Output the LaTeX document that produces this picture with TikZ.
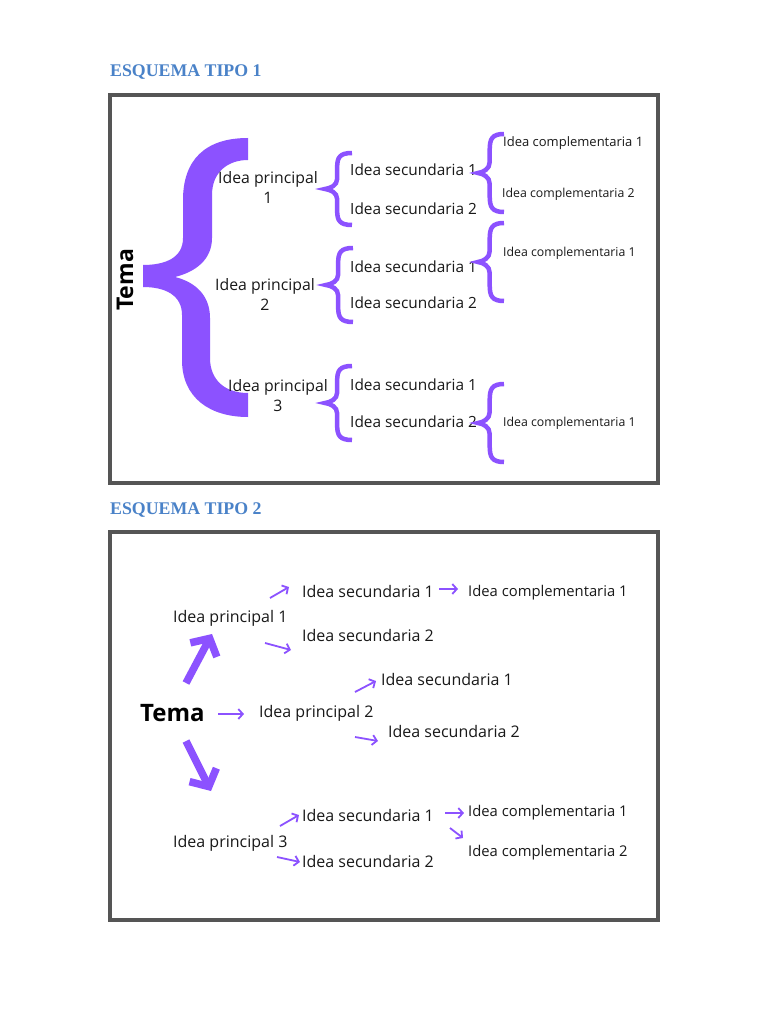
\documentclass[tikz,border=0pt]{standalone}
\usepackage{fontspec}
\setmainfont{Open Sans}
\newfontfamily\headfont{Liberation Serif}
\usetikzlibrary{arrows.meta}
\definecolor{brpurple}{RGB}{140,82,255}
\definecolor{headblue}{RGB}{74,130,200}
\definecolor{framegray}{RGB}{85,85,85}
\definecolor{txt}{RGB}{25,25,25}
\tikzset{
  frame/.style={draw=framegray, line width=4pt},
  head/.style={font=\headfont\bfseries\fontsize{17.8}{20}\selectfont, text=headblue, anchor=base west, inner sep=0},
  tmain/.style={font=\fontsize{15.8}{20}\selectfont, text=txt, inner sep=0, align=center},
  tsec/.style={font=\fontsize{15.4}{18}\selectfont, text=txt, inner sep=0, anchor=west},
  tcomp/.style={font=\fontsize{12.3}{15}\selectfont, text=txt, inner sep=0, anchor=west},
  tsec2/.style={font=\fontsize{16}{18}\selectfont, text=txt, inner sep=0, anchor=west},
  tcomp2/.style={font=\fontsize{14.8}{18}\selectfont, text=txt, inner sep=0, anchor=west},
  brc/.style={draw=brpurple, line width=4.5pt},
  bigarrow/.style={draw=brpurple, line width=7.5pt, -{Straight Barb[length=13pt,width=30pt]}},
  smallarrow/.style={draw=brpurple, line width=1.8pt, -{Straight Barb[length=4.5pt,width=10pt]}},
}
% small curly brace: tip (x,y), width, height
\newcommand\cbrace[4]{%
  \begin{scope}[shift={(#1,#2)}]
    \draw[brc] (#3,{-#4/2}) .. controls ({0.55*#3},{-#4/2}) and ({0.45*#3},{-0.44*#4}) .. ({0.45*#3},{-0.3*#4})
      -- ({0.45*#3},{-0.14*#4}) .. controls ({0.45*#3},{-0.05*#4}) and ({0.2*#3},{-0.01*#4}) .. (0,0)
      .. controls ({0.2*#3},{0.01*#4}) and ({0.45*#3},{0.05*#4}) .. ({0.45*#3},{0.14*#4})
      -- ({0.45*#3},{0.3*#4}) .. controls ({0.45*#3},{0.44*#4}) and ({0.55*#3},{#4/2}) .. (#3,{#4/2});
  \end{scope}}
\begin{document}
\begin{tikzpicture}[x=1pt,y=-1pt]
\useasboundingbox[fill=white] (0,0) rectangle (768,1024);

% ---------- Esquema tipo 1 ----------
\node[head] (h1) at (110,77) {ESQUEMA TIPO 1};
\draw[frame] (110,95) rectangle (658,483);

\fill[brpurple] (248,138)
  .. controls (205,138) and (183,160) .. (183,200)
  -- (183,238)
  .. controls (183,258) and (165,265) .. (143,265)
  -- (143,287)
  .. controls (165,287) and (182,295) .. (182,315)
  -- (182,360)
  .. controls (182,398) and (210,417) .. (248,417)
  -- (248,393)
  .. controls (225,393) and (210,380) .. (210,358)
  -- (210,318)
  .. controls (210,295) and (195,282) .. (175,277)
  .. controls (195,272) and (212,260) .. (212,238)
  -- (212,195)
  .. controls (212,172) and (228,160) .. (248,160)
  -- cycle;

\node[rotate=90, font=\bfseries\fontsize{23}{26}\selectfont, text=black, inner sep=0] (tema1) at (125,280) {Tema};

\node[tmain] (p1) at (268,187) {Idea principal\\1};
\node[tmain] (p2) at (265,294) {Idea principal\\2};
\node[tmain] (p3) at (278,396) {Idea principal\\3};

\cbrace{325}{189}{27}{72}
\node[tsec] (s11) at (350,170) {Idea secundaria 1};
\node[tsec] (s12) at (350,209) {Idea secundaria 2};
\cbrace{478}{173}{26}{78}
\node[tcomp, font=\fontsize{13}{15}\selectfont] (c111) at (503,143) {Idea complementaria 1};
\node[tcomp] (c112) at (502,194) {Idea complementaria 2};

\cbrace{326}{285}{27}{74}
\node[tsec] (s21) at (350,267) {Idea secundaria 1};
\node[tsec] (s22) at (350,303) {Idea secundaria 2};
\cbrace{478}{262}{26}{78}
\node[tcomp] (c211) at (503,253) {Idea complementaria 1};

\cbrace{325}{403}{27}{74}
\node[tsec] (s31) at (350,385) {Idea secundaria 1};
\node[tsec] (s32) at (350,422) {Idea secundaria 2};
\cbrace{478}{423}{26}{78}
\node[tcomp] (c321) at (503,423) {Idea complementaria 1};

% ---------- Esquema tipo 2 ----------
\node[head] (h2) at (110,514) {ESQUEMA TIPO 2};
\draw[frame] (110,532) rectangle (658,920);

\node[font=\bfseries\fontsize{24}{28}\selectfont, text=black, inner sep=0, anchor=west] (tema2) at (140,713) {Tema};
\node[tsec2] (q1) at (173,618) {Idea principal 1};
\node[tsec2] (q2) at (259,713) {Idea principal 2};
\node[tsec2] (q3) at (173,843) {Idea principal 3};

\node[tsec2] (r11) at (302,591) {Idea secundaria 1};
\node[tsec2] (r12) at (302,635) {Idea secundaria 2};
\node[tsec2] (r21) at (381,679) {Idea secundaria 1};
\node[tsec2] (r22) at (388,731) {Idea secundaria 2};
\node[tsec2] (r31) at (302,815) {Idea secundaria 1};
\node[tsec2] (r32) at (302,861) {Idea secundaria 2};

\node[tcomp2] (k11) at (468,593) {Idea complementaria 1};
\node[tcomp2] (k31) at (468,813) {Idea complementaria 1};
\node[tcomp2] (k32) at (468,853) {Idea complementaria 2};

% arrow end points
\coordinate (ua1) at (186,683); \coordinate (ua2) at (212,634);
\coordinate (da1) at (186,741); \coordinate (da2) at (211,791);
\coordinate (m1) at (218,714);  \coordinate (m2) at (244,714);
\coordinate (a11) at (270,598); \coordinate (a12) at (289,587);
\coordinate (a21) at (265,643); \coordinate (a22) at (291,650);
\coordinate (a31) at (439,589); \coordinate (a32) at (458,589);
\coordinate (b11) at (355,692); \coordinate (b12) at (376,681);
\coordinate (b21) at (355,737); \coordinate (b22) at (378,741);
\coordinate (d11) at (280,826); \coordinate (d12) at (299,815);
\coordinate (d21) at (277,857); \coordinate (d22) at (300,862);
\coordinate (e11) at (445,813); \coordinate (e12) at (464,813);
\coordinate (e21) at (450,828); \coordinate (e22) at (463,838);

\draw[bigarrow] (ua1) -- (ua2);
\draw[bigarrow] (da1) -- (da2);
\draw[smallarrow] (m1) -- (m2);
\draw[smallarrow] (a11) -- (a12);
\draw[smallarrow] (a21) -- (a22);
\draw[smallarrow] (a31) -- (a32);
\draw[smallarrow] (b11) -- (b12);
\draw[smallarrow] (b21) -- (b22);
\draw[smallarrow] (d11) -- (d12);
\draw[smallarrow] (d21) -- (d22);
\draw[smallarrow] (e11) -- (e12);
\draw[smallarrow] (e21) -- (e22);
\end{tikzpicture}
\end{document}
